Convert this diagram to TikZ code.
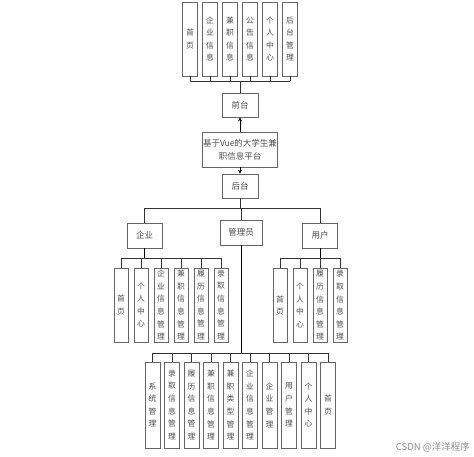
\documentclass[tikz,border=0pt]{standalone}
\usepackage{fontspec}
\newfontfamily\cjk{Noto Sans CJK SC}
\usetikzlibrary{arrows.meta}
\begin{document}
\begin{tikzpicture}[x=1pt,y=-1pt,
  bx/.style={draw=black!60, line width=0.7pt, inner sep=0pt, align=center, text=black!70,
    font=\cjk\fontsize{8.5}{13.3}\selectfont},
  vbx/.style={bx, font=\cjk\fontsize{7.8}{12.6}\selectfont},
  topbox/.style={vbx, minimum width=15pt, minimum height=74pt},
  midbox/.style={vbx, minimum width=14pt, minimum height=74pt},
  botbox/.style={vbx, minimum width=15pt, minimum height=86pt},
  hbox/.style={bx, minimum width=36pt, minimum height=24pt},
  conn/.style={draw=black!80, line width=0.7pt},
  trunk/.style={draw=black, line width=1pt},
  arr/.style={trunk, -{Stealth[length=4pt,width=4pt]}},
  wm/.style={text=black!45, font=\cjk\fontsize{9.5}{11}\selectfont, inner sep=0pt}
]
\useasboundingbox (0,0) rectangle (474,457);

% top row
\node[topbox] (t1) at (190,39) {首\\页};
\node[topbox] (t2) at (210,39) {企\\业\\信\\息};
\node[topbox] (t3) at (230,39) {兼\\职\\信\\息};
\node[topbox] (t4) at (250,39) {公\\告\\信\\息};
\node[topbox] (t5) at (270,39) {个\\人\\中\\心};
\node[topbox] (t6) at (290,39) {后\\台\\管\\理};

\node[hbox] (qt) at (240,105) {前台};
\node[bx, minimum width=75pt, minimum height=35pt] (m) at (240,149.5) {基于Vue的大学生兼\\职信息平台};
\node[hbox] (ht) at (240,186) {后台};

\coordinate (tbus) at (240,81);
\draw[conn] (qt.north) -- (tbus);
\draw[conn] (t1.south |- tbus) -- (t6.south |- tbus);
\foreach \i in {1,...,6} { \draw[conn] (t\i.south) -- (t\i.south |- tbus); }

\draw[arr] (m.north) -- (qt.south);
\draw[arr] (m.south) -- (ht.north);

% second level
\node[bx, minimum width=35pt, minimum height=25pt] (qy) at (144.5,235.5) {企业};
\node[bx, minimum width=42pt, minimum height=25pt] (gly) at (241,232.5) {管理员};
\node[bx, minimum width=35pt, minimum height=25pt] (yh) at (320,235.5) {用户};

\coordinate (mbus) at (240,208);
\draw[conn] (ht.south) -- (mbus);
\draw[conn] (qy.north |- mbus) -- (yh.north |- mbus);
\draw[conn] (qy.north) -- (qy.north |- mbus);
\draw[conn] (gly.north) -- (gly.north |- mbus);
\draw[conn] (yh.north) -- (yh.north |- mbus);

% enterprise children
\node[midbox] (e1) at (121,305) {首\\页};
\node[midbox] (e2) at (141,305) {个\\人\\中\\心};
\node[midbox] (e3) at (161,305) {企\\业\\信\\息\\管\\理};
\node[midbox] (e4) at (181,305) {兼\\职\\信\\息\\管\\理};
\node[midbox] (e5) at (201,305) {履\\历\\信\\息\\管\\理};
\node[midbox] (e6) at (221,305) {录\\取\\信\\息\\管\\理};
\coordinate (ebus) at (144.5,258);
\draw[trunk] (qy.south) -- (ebus);
\draw[conn] (e1.north |- ebus) -- (e6.north |- ebus);
\foreach \i in {1,...,6} { \draw[conn] (e\i.north) -- (e\i.north |- ebus); }

% user children
\node[midbox] (u1) at (280,305.5) {首\\页};
\node[midbox] (u2) at (300,305.5) {个\\人\\中\\心};
\node[midbox] (u3) at (320,305.5) {履\\历\\信\\息\\管\\理};
\node[midbox] (u4) at (340,305.5) {录\\取\\信\\息\\管\\理};
\coordinate (ubus) at (320,258);
\draw[trunk] (yh.south) -- (ubus);
\draw[conn] (u1.north |- ubus) -- (u4.north |- ubus);
\foreach \i in {1,...,4} { \draw[conn] (u\i.north) -- (u\i.north |- ubus); }

% admin children
\node[botbox] (a1) at (152.5,405) {系\\统\\管\\理};
\node[botbox] (a2) at (172,405) {录\\取\\信\\息\\管\\理};
\node[botbox] (a3) at (191.5,405) {履\\历\\信\\息\\管\\理};
\node[botbox] (a4) at (211,405) {兼\\职\\信\\息\\管\\理};
\node[botbox] (a5) at (230.5,405) {兼\\职\\类\\型\\管\\理};
\node[botbox] (a6) at (250,405) {企\\业\\信\\息\\管\\理};
\node[botbox] (a7) at (269.5,405) {企\\业\\管\\理};
\node[botbox] (a8) at (289,405) {用\\户\\管\\理};
\node[botbox] (a9) at (308.5,405) {个\\人\\中\\心};
\node[botbox] (a10) at (328,405) {首\\页};
\coordinate (abus) at (241,353);
\draw[trunk] (gly.south) -- (abus);
\draw[conn] (a1.north |- abus) -- (a10.north |- abus);
\foreach \i in {1,...,10} { \draw[conn] (a\i.north) -- (a\i.north |- abus); }

\node[wm, anchor=east] (w) at (470,447) {CSDN @洋洋程序};
\end{tikzpicture}
\end{document}
